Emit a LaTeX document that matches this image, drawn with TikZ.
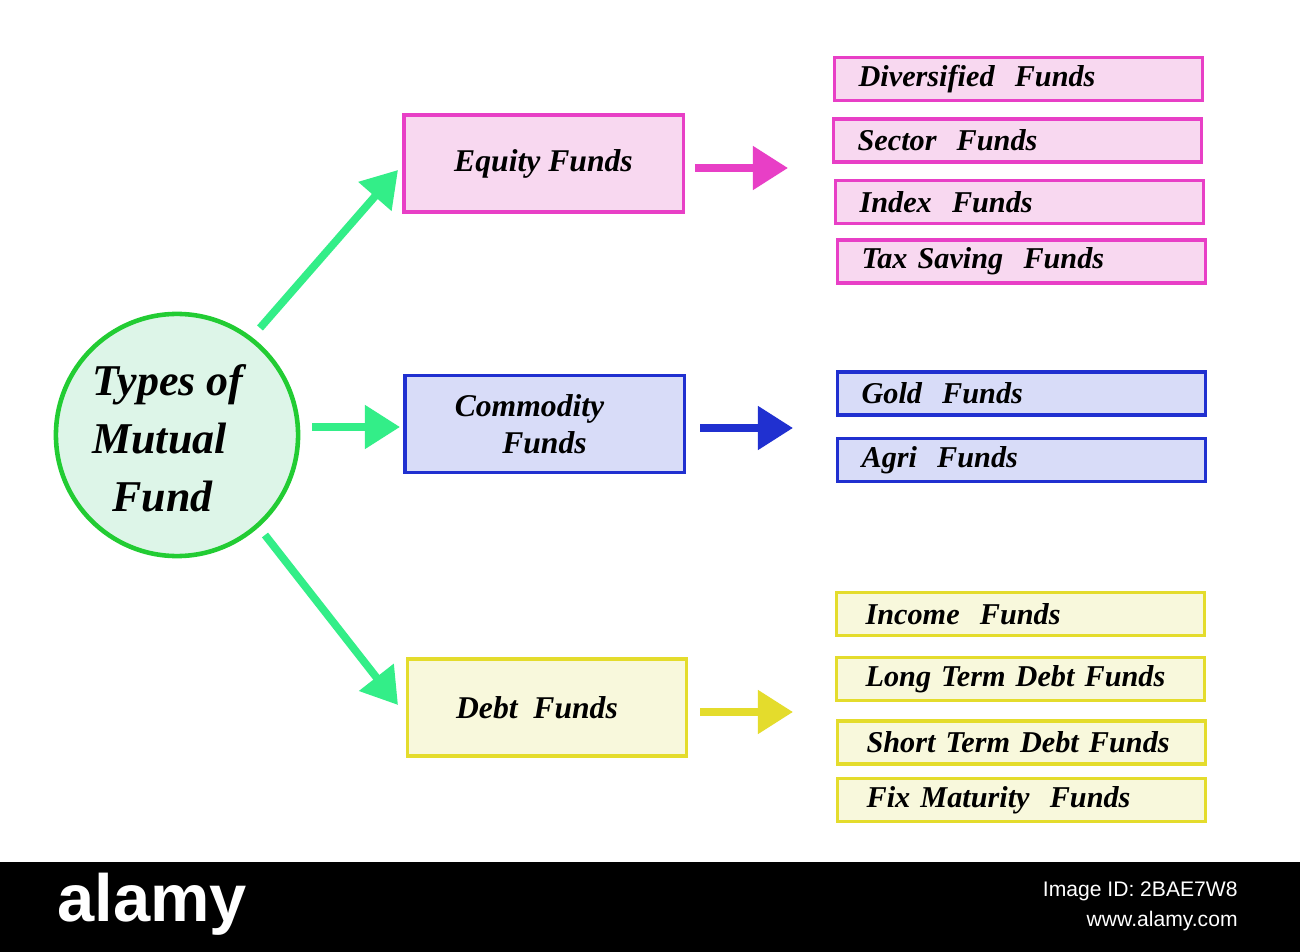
\documentclass[tikz,border=0pt]{standalone}
\usepackage{fontspec}
\setmainfont{Liberation Serif}
\newfontfamily\barfont{Liberation Sans}
\usetikzlibrary{arrows.meta}
\definecolor{pk}{HTML}{E83FC6}\definecolor{pkf}{HTML}{F8D8F0}
\definecolor{bl}{HTML}{2030D0}\definecolor{blf}{HTML}{D8DCF8}
\definecolor{ye}{HTML}{E4DC2C}\definecolor{yef}{HTML}{F8F8DC}
\definecolor{gr}{HTML}{22CC33}\definecolor{grf}{HTML}{DDF5E8}
\definecolor{ga}{HTML}{33EE88}
\begin{document}
\begin{tikzpicture}[x=0.01cm,y=-0.01cm,
 mid/.style={draw=#1,fill=#1f,line width=0.9pt,minimum width=2.79cm,minimum height=0.97cm,font=\bfseries\itshape\fontsize{9}{10.5}\selectfont,align=center,inner sep=0pt},
 sub/.style={draw=#1,fill=#1f,line width=0.9pt,minimum width=3.68cm,minimum height=0.43cm,font=\bfseries\itshape\fontsize{8.6}{10}\selectfont,anchor=west,text width=3.5cm,align=left,inner sep=0pt},
 arr/.style={draw=#1,line width=2.2pt,-{Triangle[length=10pt,width=12pt]}}]
\useasboundingbox (0,0) rectangle (1300,952);
\fill[white] (0,0) rectangle (1300,862);
\node[circle,draw=gr,fill=grf,line width=1.3pt,minimum size=2.42cm,inner sep=0pt] (c) at (177,435) {};
\node[font=\bfseries\itshape\fontsize{12.5}{16.5}\selectfont,align=left,anchor=west] (ct) at (80,438) {Types of\\Mutual\\\hspace{0.2cm}Fund};
\node[mid=pk] (eq) at (543.5,163.5) {Equity Funds};
\node[mid=bl] (co) at (544.5,424) {\hspace{-0.3cm}Commodity\\Funds};
\node[mid=ye] (de) at (547,707.5) {\hspace{-0.2cm}Debt\ \ Funds};
\node[sub=pk] (s1) at (833,79) {\hspace{0.15cm}Diversified\ \ Funds};
\node[sub=pk] (s2) at (832,140.5) {\hspace{0.15cm}Sector\ \ Funds};
\node[sub=pk] (s3) at (834,202) {\hspace{0.15cm}Index\ \ Funds};
\node[sub=pk] (s4) at (836,261.5) {\hspace{0.15cm}Tax Saving\ \ Funds};
\node[sub=bl] (s5) at (836,393.5) {\hspace{0.15cm}Gold\ \ Funds};
\node[sub=bl] (s6) at (836,460) {\hspace{0.15cm}Agri\ \ Funds};
\node[sub=ye] (s7) at (835,614) {\hspace{0.2cm}Income\ \ Funds};
\node[sub=ye] (s8) at (835,679) {\hspace{0.2cm}Long Term Debt Funds};
\node[sub=ye] (s9) at (836,742.5) {\hspace{0.2cm}Short Term Debt Funds};
\node[sub=ye] (s10) at (836,800) {\hspace{0.2cm}Fix Maturity\ \ Funds};
\coordinate (a1) at (260,328); \coordinate (b1) at (398,170);
\coordinate (a2) at (312,427); \coordinate (b2) at (400,427);
\coordinate (a3) at (265,535); \coordinate (b3) at (398,705);
\draw[arr=ga] (a1) -- (b1);
\draw[arr=ga] (a2) -- (b2);
\draw[arr=ga] (a3) -- (b3);
\coordinate (e1) at (695,168); \coordinate (e2) at (788,168);
\coordinate (f1) at (700,428); \coordinate (f2) at (793,428);
\coordinate (g1) at (700,712); \coordinate (g2) at (793,712);
\draw[arr=pk] (e1) -- (e2);
\draw[arr=bl] (f1) -- (f2);
\draw[arr=ye] (g1) -- (g2);
\fill[black] (0,862) rectangle (1300,952);
\node[white,font=\barfont\bfseries\fontsize{19}{21}\selectfont,anchor=west] (al) at (45,904) {alamy};
\node[white,font=\barfont\fontsize{6}{8.5}\selectfont,align=right,anchor=east] (id) at (1250,906) {Image ID: 2BAE7W8\\www.alamy.com};
\end{tikzpicture}
\end{document}
